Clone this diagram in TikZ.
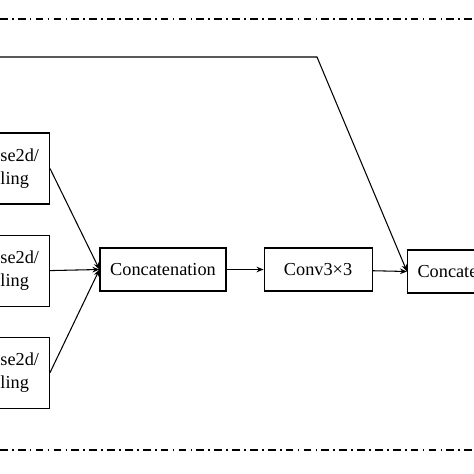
\documentclass[tikz,border=0pt]{standalone}
\usepackage{fontspec}
\setmainfont{Liberation Serif}
\usepackage{tikz}
\usetikzlibrary{arrows.meta, positioning}
\tikzset{
  procbox/.style={rectangle, draw=black, line width=0.75pt, minimum height=1.075cm,
    font=\fontsize{13}{16.4}\selectfont, inner sep=0pt},
  poolbox/.style={procbox, minimum height=1.775cm, text width=1.025cm, inner xsep=0.2cm, align=left},
  arrow/.style={-{Stealth[length=5pt, width=4pt]}, line width=0.75pt, black},
  dashdot/.style={line width=0.9pt, dash pattern=on 5.5pt off 3pt on 1.2pt off 3pt}
}
\begin{document}
\begin{tikzpicture}[x=0.025cm, y=-0.025cm, every node/.style={align=center}]
  \useasboundingbox (0,0) rectangle (474,474);
  \clip (0,0) rectangle (474,474);
  % frame lines
  \coordinate (topl) at (0,19);
  \coordinate (topr) at (474,19);
  \coordinate (botl) at (0,450);
  \coordinate (botr) at (474,450);
  \draw[dashdot] (topl) -- (topr);
  \draw[dashdot] (botl) -- (botr);
  % branches
  \node[poolbox, anchor=east]        (pool1) at (50,168.5) {se2d/\\ling};
  \node[poolbox, below=0.75cm of pool1] (pool2) {se2d/\\ling};
  \node[poolbox, below=0.75cm of pool2] (pool3) {se2d/\\ling};
  \node[procbox, minimum width=3.15cm] (concat) at (163,269.5) {Concatenation};
  \node[procbox, minimum width=2.7cm, right=0.925cm of concat] (conv) {Conv3×3};
  \node[procbox, anchor=west, text width=2.6cm, inner xsep=0.25cm, align=left]
        (concat2) at (407,271.5) {Concate};
  % skip connection
  \coordinate (skipin)   at (-2,57);
  \coordinate (skipbend) at (317,57);
  \draw[arrow] (pool1.east) -- (concat.west);
  \draw[arrow] (pool2.east) -- (concat.west);
  \draw[arrow] (pool3.east) -- (concat.west);
  \draw[arrow] (concat) -- (conv);
  \draw[arrow] (conv)   -- (concat2.west);
  \draw[arrow] (skipin) -- (skipbend) -- (concat2.west);
\end{tikzpicture}
\end{document}
